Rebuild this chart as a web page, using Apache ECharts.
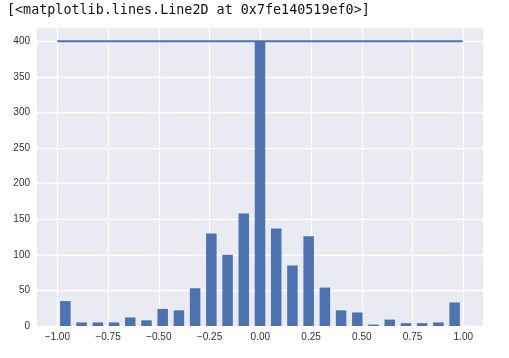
<!DOCTYPE html>
<html><head><meta charset="utf-8">
<script src="https://cdn.jsdelivr.net/npm/echarts@6/dist/echarts.min.js"></script>
<style>html,body{margin:0;padding:0;background:#fff}#c{width:509px;height:358px}</style>
</head><body><div id="c"></div>
<script>
const binCenters = [-0.96,-0.88,-0.80,-0.72,-0.64,-0.56,-0.48,-0.40,-0.32,-0.24,-0.16,-0.08,0.00,0.08,0.16,0.24,0.32,0.40,0.48,0.56,0.64,0.72,0.80,0.88,0.96];
const counts = [35,5,5,5,12,8,24,22,53,130,100,158,400,137,85,126,54,22,19,2,9,4,4,5,33];
const lineX = [-1, 1];
const lineY = [400, 400];
const titleText = '[<matplotlib.lines.Line2D at 0x7fe140519ef0>]';

const fmtX = v => { const s = Math.abs(v).toFixed(2); return v < 0 ? '\u2212' + s : s; };
const chart = echarts.init(document.getElementById('c'));
const txt = { color: '#333', fontFamily: 'Liberation Sans, Arial, sans-serif', fontSize: 10 };
chart.setOption({
  animation: false,
  title: { text: titleText, left: 7, top: 4, padding: 0, textStyle: { fontFamily: 'DejaVu Sans Mono', fontSize: 13.4, fontWeight: 'normal', color: '#111' } },
  grid: [
    { left: 37, right: 26, top: 27, bottom: 32, show: true, backgroundColor: '#EAEAF2', borderWidth: 0 },
    { left: 57.3, right: 45.7, top: 27, bottom: 32, show: false }
  ],
  xAxis: [
    { type: 'value', gridIndex: 0, min: -1.1, max: 1.1, show: false, splitLine: { show: false } },
    { type: 'value', gridIndex: 1, min: -1, max: 1, interval: 0.25,
      axisLine: { show: false }, axisTick: { show: false },
      axisLabel: Object.assign({ margin: 6, formatter: fmtX }, txt),
      splitLine: { show: true, lineStyle: { color: '#fff', width: 1.3 } } }
  ],
  yAxis: [
    { type: 'value', gridIndex: 0, min: 0, max: 420, interval: 50,
      axisLine: { show: false }, axisTick: { show: false },
      axisLabel: Object.assign({ margin: 7, showMaxLabel: false }, txt),
      splitLine: { show: true, lineStyle: { color: '#fff', width: 1.3 } } },
    { type: 'value', gridIndex: 1, min: 0, max: 420, show: false, splitLine: { show: false } }
  ],
  series: [
    { type: 'bar', xAxisIndex: 0, yAxisIndex: 0, barWidth: 10.5, z: 3,
      itemStyle: { color: '#4C72B0' },
      data: binCenters.map((x, i) => [x, counts[i]]) },
    { type: 'line', xAxisIndex: 0, yAxisIndex: 0, symbol: 'none', z: 4,
      lineStyle: { color: '#4C72B0', width: 2 },
      data: lineX.map((x, i) => [x, lineY[i]]) }
  ]
});
</script></body></html>
